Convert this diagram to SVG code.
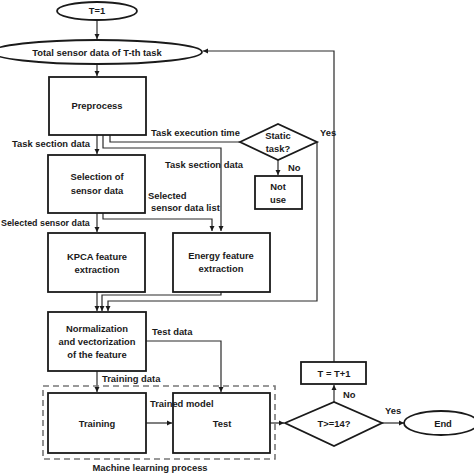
<svg xmlns="http://www.w3.org/2000/svg" width="474" height="474" viewBox="0 0 474 474">
<style>
.b{fill:#fff;stroke:#1a1a1a;stroke-width:1.8}
.c{fill:none;stroke:#2a2a2a;stroke-width:1.2}
text{font-family:"Liberation Sans",Arial,sans-serif;font-weight:bold;font-size:9.4px;fill:#1a1a1a}
.m{text-anchor:middle}
.e{text-anchor:end}
</style>
<defs>
<marker id="a" markerWidth="6" markerHeight="6" refX="5" refY="3" orient="auto" markerUnits="userSpaceOnUse">
<path d="M0,0.5 L5,3 L0,5.5 Z" fill="#1a1a1a"/>
</marker>
</defs>
<rect width="474" height="474" fill="#fff"/>
<g id="connectors">
<path class="c" d="M97,20 V39" marker-end="url(#a)"/>
<path class="c" d="M97,64 V76" marker-end="url(#a)"/>
<path class="c" d="M97,135 V154" marker-end="url(#a)"/>
<path class="c" d="M103,135 V148 H221 V231" marker-end="url(#a)"/>
<path class="c" d="M110,135 V142 H240"/>
<path class="c" d="M278,160 V175" marker-end="url(#a)"/>
<path class="c" d="M317,142 V301 H108 V311" marker-end="url(#a)"/>
<path class="c" d="M97,213 V232" marker-end="url(#a)"/>
<path class="c" d="M103,213 V219 H212 V231" marker-end="url(#a)"/>
<path class="c" d="M97,292 V311" marker-end="url(#a)"/>
<path class="c" d="M221,292 V295 H102 V311" marker-end="url(#a)"/>
<path class="c" d="M146,341 H221 V392" marker-end="url(#a)"/>
<path class="c" d="M97,371 V392" marker-end="url(#a)"/>
<path class="c" d="M146,423 H172" marker-end="url(#a)"/>
<path class="c" d="M270,423 H284" marker-end="url(#a)"/>
<path class="c" d="M334,402 V385" marker-end="url(#a)"/>
<path class="c" d="M382,423 H404" marker-end="url(#a)"/>
<path class="c" d="M334,362 V51 H203" marker-end="url(#a)"/>
</g>
<rect x="43" y="386" width="232" height="73" fill="none" stroke="#777" stroke-width="1.6" stroke-dasharray="6,4"/>
<g id="t1"><ellipse class="b" cx="97" cy="11" rx="40" ry="9"/><text class="m" x="97" y="14">T=1</text></g>
<g id="total"><ellipse class="b" cx="97" cy="52" rx="105" ry="12"/><text class="m" x="97" y="55.5">Total sensor data of T-th task</text></g>
<g id="preprocess"><rect class="b" x="49" y="77" width="97" height="58"/><text class="m" x="97" y="109">Preprocess</text></g>
<g id="static"><path class="b" d="M240,142 L278,124 L317,142 L278,160 Z"/><text class="m" x="278" y="139">Static</text><text class="m" x="278" y="152">task?</text></g>
<g id="notuse"><rect class="b" x="255" y="176" width="47" height="33"/><text class="m" x="278" y="190">Not</text><text class="m" x="278" y="203">use</text></g>
<g id="selection"><rect class="b" x="48" y="155" width="97" height="58"/><text class="m" x="97" y="180">Selection of</text><text class="m" x="97" y="194">sensor data</text></g>
<g id="kpca"><rect class="b" x="48" y="233" width="97" height="59"/><text class="m" x="97" y="260">KPCA feature</text><text class="m" x="97" y="273">extraction</text></g>
<g id="energy"><rect class="b" x="173" y="233" width="97" height="59"/><text class="m" x="221" y="259">Energy feature</text><text class="m" x="221" y="272">extraction</text></g>
<g id="norm"><rect class="b" x="48" y="312" width="98" height="59"/><text class="m" x="97" y="332">Normalization</text><text class="m" x="97" y="345">and vectorization</text><text class="m" x="97" y="358">of the feature</text></g>
<g id="training"><rect class="b" x="48" y="393" width="98" height="60"/><text class="m" x="97" y="427">Training</text></g>
<g id="test"><rect class="b" x="173" y="393" width="97" height="60"/><text class="m" x="222" y="427">Test</text></g>
<g id="cond"><path class="b" d="M285,423 L334,402 L382,423 L334,446 Z"/><text class="m" x="334" y="427">T&gt;=14?</text></g>
<g id="inc"><rect class="b" x="301" y="362" width="65" height="22"/><text class="m" x="334" y="376.5">T = T+1</text></g>
<g id="end"><ellipse class="b" cx="441" cy="423" rx="37" ry="12"/><text class="m" x="443" y="426.5">End</text></g>
<g id="labels">
<text x="151" y="136">Task execution time</text>
<text x="12" y="147">Task section data</text>
<text x="165" y="168">Task section data</text>
<text x="148" y="199">Selected</text>
<text x="151" y="211">sensor data list</text>
<text x="1" y="226" style="font-size:8.9px">Selected sensor data</text>
<text x="320" y="136">Yes</text>
<text x="288" y="171">No</text>
<text x="152" y="335">Test data</text>
<text x="102" y="382">Training data</text>
<text x="150" y="407">Trained model</text>
<text class="m" x="150" y="471">Machine learning process</text>
<text x="343" y="398">No</text>
<text x="385" y="414">Yes</text>
</g>
</svg>
